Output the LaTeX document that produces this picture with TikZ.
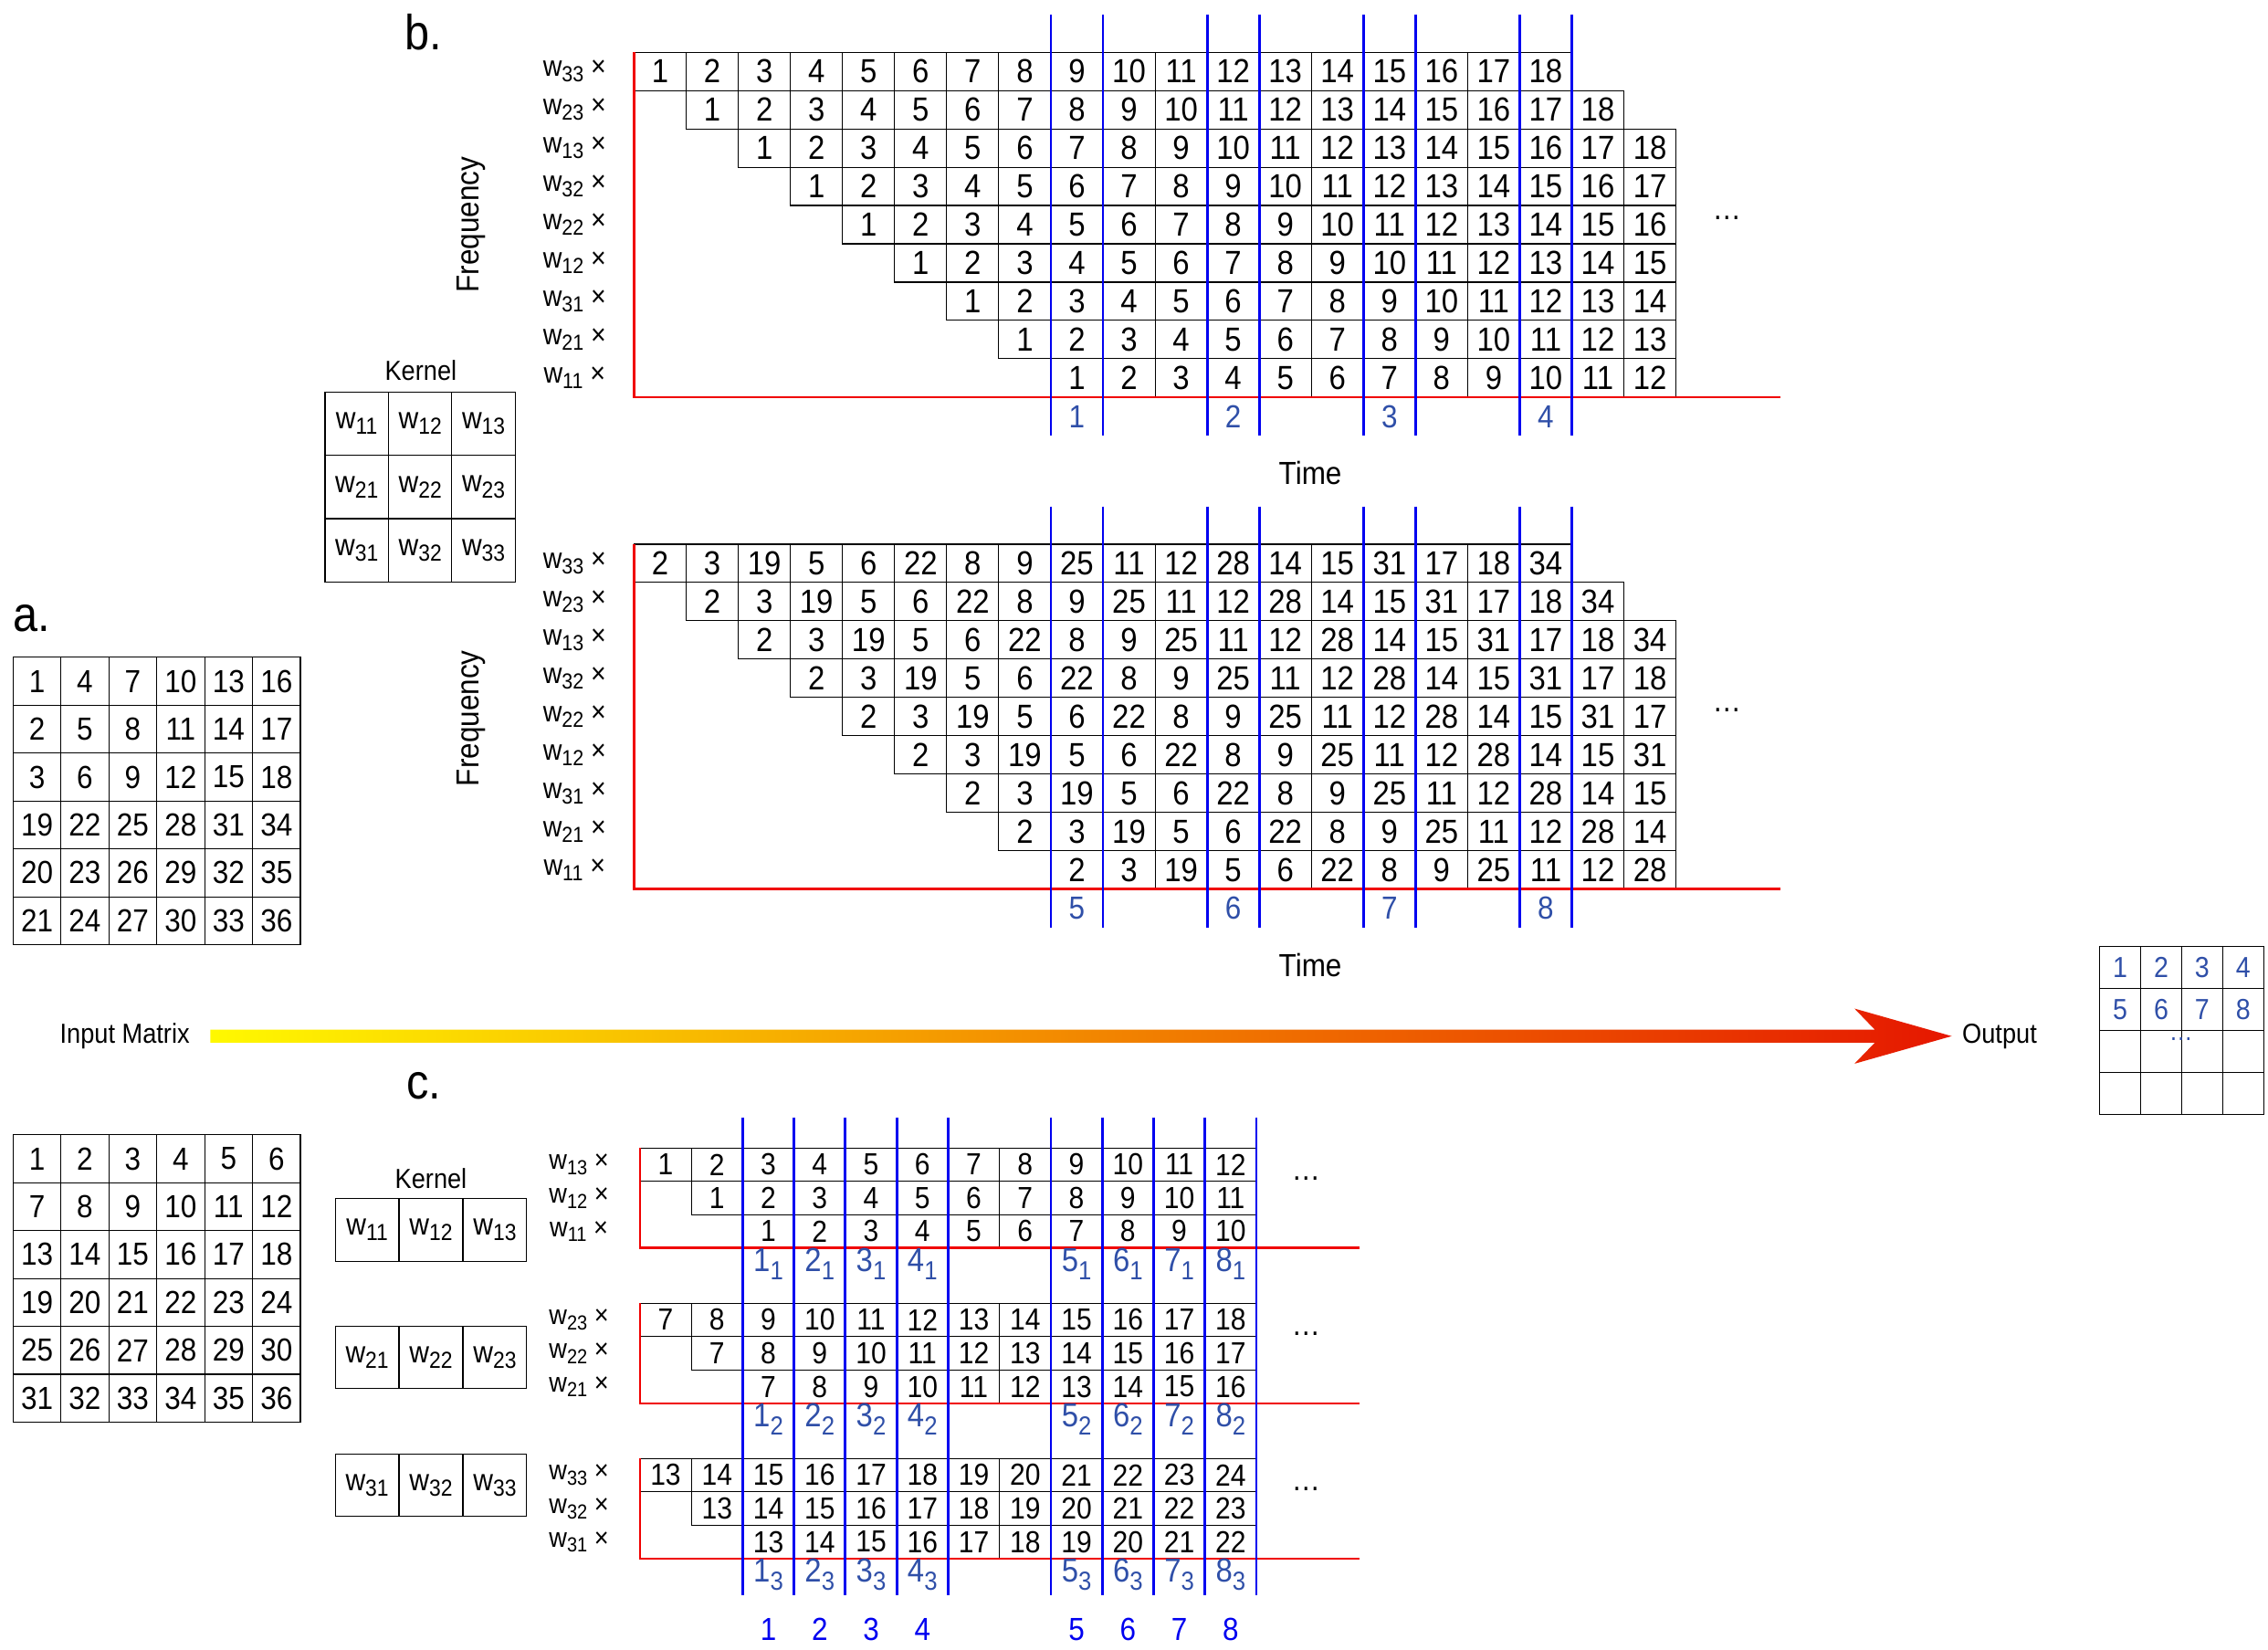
\documentclass[tikz,border=0pt]{standalone}
\usepackage{fontspec}
\setmainfont{Liberation Sans}[FakeStretch=0.9]
\definecolor{lblue}{HTML}{2F4FA8}
\definecolor{bblue}{HTML}{0000F0}
\definecolor{lred}{HTML}{F00000}
\newcommand\fs[1]{\fontsize{#1}{#1}\selectfont}
\newcommand\wl[2]{w\raisebox{-0.35ex}{\fs{#2}#1}}
\tikzset{
 bc/.style={draw,line width=0.7pt,minimum width=35.9pt,minimum height=26.4pt,inner sep=0pt,font=\fs{23}},
 cc/.style={draw,line width=0.7pt,minimum width=35.4pt,minimum height=23pt,inner sep=0pt,font=\fs{21}},
 mc/.style={draw,line width=0.7pt,minimum width=33pt,minimum height=33pt,inner sep=0pt,font=\fs{22}},
 kc/.style={draw,line width=0.7pt,minimum width=43.7pt,minimum height=43.7pt,inner sep=0pt,font=\fs{21}},
 oc/.style={draw,line width=0.7pt,minimum width=28.25pt,minimum height=29pt,inner sep=0pt,font=\fs{20},text=lblue},
 rowlab/.style={font=\fs{20},inner sep=0pt},
 redl/.style={draw=lred,line width=1.6pt},
 bluel/.style={draw=bblue,line width=1.8pt},
 lab/.style={font=\fs{22},inner sep=0pt},
 big/.style={font=\fs{34},inner sep=0pt},
}
\newcommand\bgrid[3]{%
 \foreach \k in {0,...,8}{%
  \foreach \v [count=\j] in {#2}{%
   \pgfmathtruncatemacro\c{\k+\j-1}%
   \ifnum\c<20 \node[bc] (#3-\k-\c) at ({437+(\c+0.5)*35.9},{#1+(\k+0.5)*26.4}) {\v};\fi
  }}%
 \foreach \n [count=\i from 0] in {33,23,13,32,22,12,31,21,11}{%
  \node[rowlab] (#3w\n) at (396,{#1+(\i+0.5)*26.4}) {\wl{\n}{15} ×};}%
 \coordinate (#3o) at (437,{#1+9*26.4});
 \coordinate (#3t) at (437,#1);
 \coordinate (#3e) at (1227,{#1+9*26.4});
 \draw[redl] (#3t) -- (#3o) -- (#3e);
 \foreach \c in {8,9,11,12,14,15,17,18}{%
  \coordinate (#3a\c) at ({437+\c*35.9},{#1-26});
  \coordinate (#3b\c) at ({437+\c*35.9},{#1+264});
  \draw[bluel] (#3a\c) -- (#3b\c);}%
}
\newcommand\cgrid[4]{% y0, start, tag, subscript
 \foreach \r in {0,1,2}{%
  \pgfmathtruncatemacro\m{11-\r}%
  \foreach \j in {0,...,\m}{%
   \pgfmathtruncatemacro\c{\r+\j}\pgfmathtruncatemacro\v{#2+\j}%
   \node[cc] (#3-\r-\c) at ({441+(\c+0.5)*35.4},{#1+(\r+0.5)*23}) {\v};}}%
 \coordinate (#3t) at (441,#1);
 \coordinate (#3o) at (441,{#1+69});
 \coordinate (#3e) at (937,{#1+69});
 \draw[redl] (#3t) -- (#3o) -- (#3e);
 \foreach \c/\l in {2/1,3/2,4/3,5/4,8/5,9/6,10/7,11/8}{%
  \node[font=\fs{23},text=lblue,inner sep=0pt] (#3s\l) at ({441+(\c+0.5)*35.4},{#1+80}) {\l\raisebox{-0.45ex}{\fs{18}#4}};}%
 \node[font=\fs{22}] (#3dots) at (900,{#1+21}) {…};
}
\begin{document}
\begin{tikzpicture}[x=1pt,y=-1pt]
\useasboundingbox (0,0) rectangle (1563,1137);
% panel b
\node[big] (blab) at (292,22) {b.};
\bgrid{36}{1,2,3,4,5,6,7,8,9,10,11,12,13,14,15,16,17,18}{g}
\bgrid{375}{2,3,19,5,6,22,8,9,25,11,12,28,14,15,31,17,18,34}{h}
\foreach \c/\l in {8/1,11/2,14/3,17/4}{\node[lab,text=lblue] (gl\l) at ({437+(\c+0.5)*35.9},287) {\l};}
\foreach \c/\l in {8/5,11/6,14/7,17/8}{\node[lab,text=lblue] (hl\l) at ({437+(\c+0.5)*35.9},626) {\l};}
\node[lab,rotate=90] (f1) at (325,155) {Frequency};
\node[lab,rotate=90] (f2) at (325,495) {Frequency};
\node[lab] (t1) at (903,326) {Time};
\node[lab] (t2) at (903,665) {Time};
\node[font=\fs{22}] (d1) at (1190,150) {…};
\node[font=\fs{22}] (d2) at (1190,489) {…};
% kernel b
\node[font=\fs{19}] (kb) at (290,255) {Kernel};
\foreach \r in {1,2,3}{\foreach \c in {1,2,3}{
 \node[kc] (k\r\c) at ({224+(\c-0.5)*43.7},{270+(\r-0.5)*43.7}) {\wl{\r\c}{16}};}}
% panel a
\node[big] (alab) at (22,426) {a.};
\foreach \row [count=\r from 0] in {{1,4,7,10,13,16},{2,5,8,11,14,17},{3,6,9,12,15,18},{19,22,25,28,31,34},{20,23,26,29,32,35},{21,24,27,30,33,36}}{
 \foreach \v [count=\c from 0] in \row {\node[mc] (a\r\c) at ({9+(\c+0.5)*33},{453+(\r+0.5)*33}) {\v};}}
% arrow
\node[font=\fs{19}] (inm) at (86,714) {Input Matrix};
\node[font=\fs{19}] (outl) at (1378,714) {Output};
\shade[left color=yellow!95!orange,right color=red!80!orange!90!black]
 (145,709.5) -- (1292,709.5) -- (1278,695) -- (1345,714) -- (1278,733) -- (1292,718.5) -- (145,718.5) -- cycle;
% output
\foreach \r in {0,...,3}{\foreach \c in {0,...,3}{
 \pgfmathtruncatemacro\v{\r*4+\c+1}
 \ifnum\r<2 \node[oc] (o\r\c) at ({1447+(\c+0.5)*28.25},{652+(\r+0.5)*29}) {\v};
 \else \node[oc] (o\r\c) at ({1447+(\c+0.5)*28.25},{652+(\r+0.5)*29}) {};\fi}}
\node[font=\fs{18},text=lblue] (odots) at (1503,716) {…};
% panel c
\node[big] (clab) at (292,748) {c.};
\foreach \r in {0,...,5}{\foreach \c in {0,...,5}{
 \pgfmathtruncatemacro\v{\r*6+\c+1}
 \node[mc] (c\r\c) at ({9+(\c+0.5)*33},{782+(\r+0.5)*33}) {\v};}}
\node[font=\fs{19}] (kc) at (297,812) {Kernel};
\foreach \r/\y in {1/826,2/914,3/1002}{\foreach \c in {1,2,3}{
 \node[kc,minimum width=44pt,minimum height=43pt] (ck\r\c) at ({231+(\c-0.5)*44},{\y+21.5}) {\wl{\r\c}{16}};}}
\cgrid{791}{1}{p}{1}
\cgrid{898}{7}{q}{2}
\cgrid{1005}{13}{s}{3}
\foreach \y/\a/\b/\cc in {791/13/12/11,898/23/22/21,1005/33/32/31}{
 \node[rowlab,font=\fs{19}] at (399,\y+11.5) {\wl{\a}{14} ×};
 \node[rowlab,font=\fs{19}] at (399,\y+34.5) {\wl{\b}{14} ×};
 \node[rowlab,font=\fs{19}] at (399,\y+57.5) {\wl{\cc}{14} ×};}
\foreach \c in {2,3,4,5,6,8,9,10,11,12}{
 \coordinate (ct\c) at ({441+\c*35.4},770);
 \coordinate (cb\c) at ({441+\c*35.4},1099);
 \draw[bluel] (ct\c) -- (cb\c);}
\foreach \c/\l in {2/1,3/2,4/3,5/4,8/5,9/6,10/7,11/8}{
 \node[lab,text=bblue] (bl\l) at ({441+(\c+0.5)*35.4},1123) {\l};}
\end{tikzpicture}
\end{document}
